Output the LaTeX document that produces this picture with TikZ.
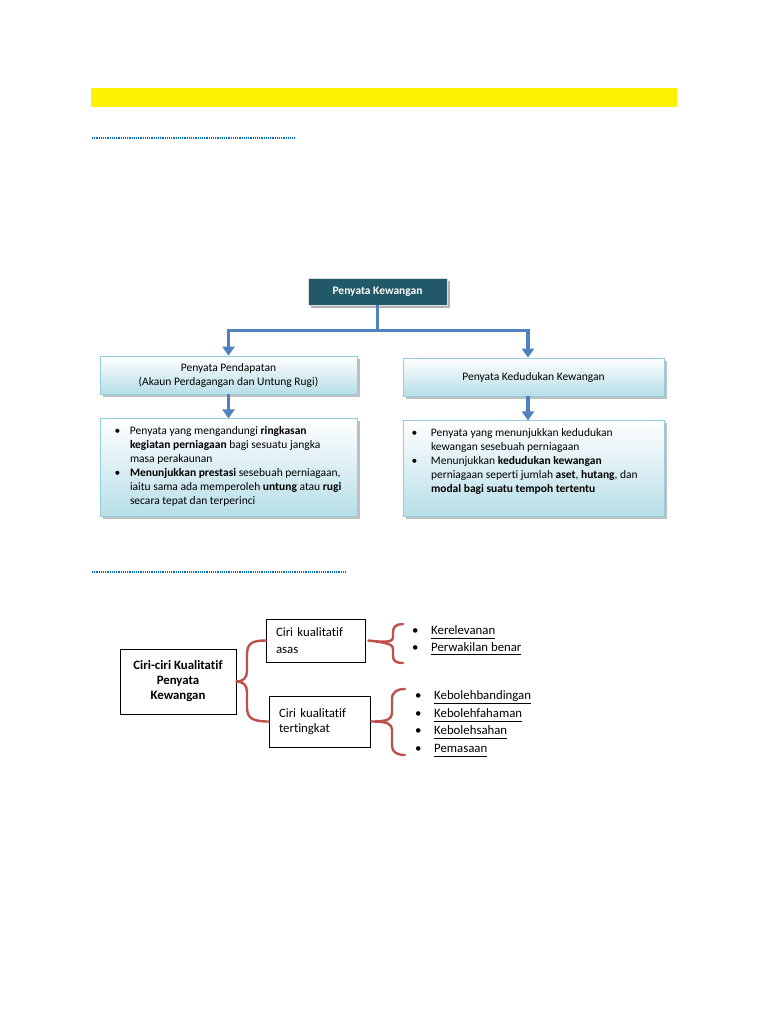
\documentclass[tikz,border=0pt]{standalone}
\usepackage{fontspec}
\setmainfont{Carlito}[Ligatures=NoCommon]
\usepackage{tikz}
\usetikzlibrary{arrows.meta,positioning,shadows}

\definecolor{tealbox}{RGB}{33,89,104}
\definecolor{arrowblue}{RGB}{79,129,189}
\definecolor{boxrim}{RGB}{146,205,221}
\definecolor{boxfill}{RGB}{183,222,232}
\definecolor{bracered}{RGB}{192,80,77}
\definecolor{rulerblue}{RGB}{0,112,192}

\begin{document}
\begin{tikzpicture}[x=1pt,y=-1pt,
    headbox/.style={draw=gray!25,line width=0.8pt,fill=tealbox,text=white,
      font=\fontsize{11.5}{14}\selectfont\bfseries,minimum width=139pt,minimum height=27pt,
      drop shadow={shadow xshift=3pt,shadow yshift=-3pt,fill=gray,opacity=0.6}},
    lightbox/.style={draw=boxrim,line width=0.8pt,top color=white,bottom color=boxfill,
      font=\fontsize{11.5}{14}\selectfont,align=center,
      drop shadow={shadow xshift=2.5pt,shadow yshift=-2.5pt,fill=gray,opacity=0.5}},
    plainbox/.style={draw,line width=0.8pt,font=\fontsize{12.8}{15}\selectfont},
    listnode/.style={anchor=west,inner sep=0pt},
    flow/.style={draw=arrowblue,line width=3.5pt,-{Triangle[width=12pt,length=9pt]}},
    redbrace/.style={draw=bracered,line width=2.4pt,line cap=round,line join=round},
    ruler/.style={draw=rulerblue,line width=1.2pt,densely dotted}]
    \fill[white] (0,0) rectangle (768,1024);
    \useasboundingbox (0,0) rectangle (768,1024);

    % heading bar and rules
    \fill[yellow] (91,88) rectangle (677,107);
    \draw[ruler] (92,138) -- (295,138);
    \draw[ruler] (92,572) -- (346,572);

    % penyata kewangan
    \node[headbox] (k_top) at (377.5,291.5) {Penyata Kewangan};
    \node[lightbox,minimum width=257pt,minimum height=38pt] (k_pend) at (228.5,375)
      {Penyata Pendapatan\\(Akaun Perdagangan dan Untung Rugi)};
    \node[lightbox,minimum width=261pt,minimum height=38pt] (k_kedu) at (533.5,377)
      {Penyata Kedudukan Kewangan};
    \node[lightbox,inner xsep=14.5pt,inner ysep=6pt] (k_pendtxt) [below=24pt of k_pend]
      {\parbox[c][86pt][t]{228pt}{\begin{tabular}{@{}p{15.5pt}@{}l@{}}
        \textbullet & Penyata yang mengandungi \textbf{ringkasan}\\
         & \textbf{kegiatan perniagaan} bagi sesuatu jangka\\
         & masa perakaunan\\
        \textbullet & \textbf{Menunjukkan prestasi} sesebuah perniagaan,\\
         & iaitu sama ada memperoleh \textbf{untung} atau \textbf{rugi}\\
         & secara tepat dan terperinci
      \end{tabular}}};
    \node[lightbox,inner xsep=8.5pt,inner ysep=6pt] (k_kedutxt) [below=24pt of k_kedu]
      {\parbox[c][84pt][t]{244pt}{\begin{tabular}{@{}p{19.5pt}@{}l@{}}
        \textbullet & Penyata yang menunjukkan kedudukan\\
         & kewangan sesebuah perniagaan\\
        \textbullet & Menunjukkan \textbf{kedudukan kewangan}\\
         & perniagaan seperti jumlah \textbf{aset}, \textbf{hutang}, dan\\
         & \textbf{modal bagi suatu tempoh tertentu}
      \end{tabular}}};

    \draw[flow] (k_top.south) -- ++(0,25) -| (k_pend.north);
    \draw[flow] (k_top.south) -- ++(0,25) -| ([xshift=-5.5pt]k_kedu.north);
    \draw[flow] (k_pend.south) -- (k_pendtxt.north);
    \draw[flow] ([xshift=-5.5pt]k_kedu.south) -- ([xshift=-5.5pt]k_kedutxt.north);

    % ciri-ciri kualitatif
    \node[plainbox,font=\fontsize{12.8}{15}\selectfont\bfseries,align=center,
      minimum width=116pt,minimum height=65pt] (c_main) at (178,681.5)
      {Ciri-ciri Kualitatif\\Penyata\\Kewangan};
    \node[plainbox,font=\fontsize{12.8}{17}\selectfont,align=left,text width=79pt,
      inner xsep=10pt,minimum height=43pt] (c_asas) at (315.5,640.5)
      {Ciri kualitatif\\asas};
    \node[plainbox,align=left,text width=81pt,inner xsep=10pt,
      minimum height=51pt] (c_tert) at (319.5,721.5)
      {Ciri kualitatif\\tertingkat};
    \node[listnode,font=\fontsize{12.8}{16.5}\selectfont] (c_asaslist) at (412,639.5)
      {\begin{tabular}{@{}p{19pt}@{}l@{}}
        \textbullet & \underline{Kerelevanan\vphantom{g}}\\
        \textbullet & \underline{Perwakilan benar\vphantom{g}}
      \end{tabular}};
    \node[listnode,font=\fontsize{12.8}{17.7}\selectfont] (c_tertlist) at (415,722.5)
      {\begin{tabular}{@{}p{19pt}@{}l@{}}
        \textbullet & \underline{Kebolehbandingan}\\
        \textbullet & \underline{Kebolehfahaman\vphantom{g}}\\
        \textbullet & \underline{Kebolehsahan\vphantom{g}}\\
        \textbullet & \underline{Pemasaan\vphantom{g}}
      \end{tabular}};

    \coordinate (c_b2top) at (403,624);
    \coordinate (c_b2bot) at (403,663);
    \coordinate (c_b3top) at (405,689);
    \coordinate (c_b3bot) at (405,755);
    \draw[redbrace] (c_asas.west) .. controls (251,640.5) and (247,644) .. (247,655)
      -- (247,671) .. controls (247,678) and (243,681.5) .. (c_main.east)
      .. controls (243,681.5) and (247,685) .. (247,692)
      -- (247,707) .. controls (247,718) and (252,721.5) .. (c_tert.west);
    \draw[redbrace] (c_b2top) .. controls (396,624) and (393,627) .. (393,632)
      -- (393,637) .. controls (393,641) and (390,643) .. ([xshift=3pt]c_asas.east)
      .. controls (390,643) and (393,645) .. (393,649)
      -- (393,656) .. controls (393,661) and (396,663) .. (c_b2bot);
    \draw[redbrace] (c_b3top) .. controls (397,689) and (392,692) .. (392,699)
      -- (392,713) .. controls (392,719) and (388,721.5) .. ([xshift=1pt]c_tert.east)
      .. controls (388,721.5) and (392,724) .. (392,730)
      -- (392,746) .. controls (392,752) and (397,755) .. (c_b3bot);
\end{tikzpicture}
\end{document}
